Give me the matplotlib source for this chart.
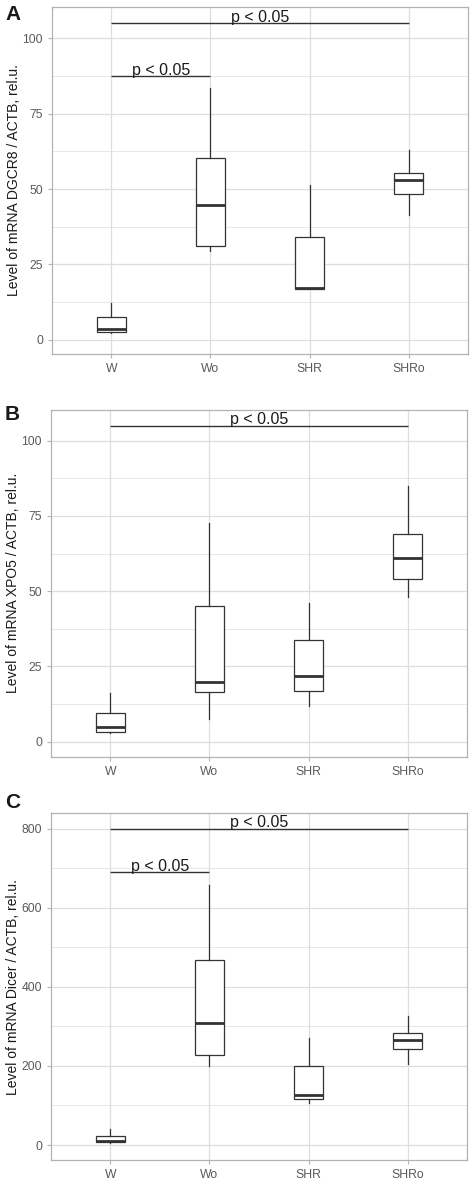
import matplotlib
matplotlib.use("Agg")
import matplotlib.pyplot as plt
from matplotlib.ticker import MultipleLocator

plt.rcParams['font.family'] = ['Liberation Sans', 'DejaVu Sans']

groups = ["W", "Wo", "SHR", "SHRo"]

# box stats: [lower whisker, Q1, median, Q3, upper whisker]
dgcr8 = [[2.3, 2.7, 3.7, 7.5, 12.1],
         [29.5, 31.2, 44.7, 60.3, 83.4],
         [17.0, 17.0, 17.3, 34.2, 51.2],
         [41.4, 48.5, 52.9, 55.5, 63.0]]
xpo5 = [[2.8, 3.3, 4.8, 9.4, 16.1],
        [7.4, 16.4, 19.9, 45.2, 72.5],
        [11.8, 16.8, 21.7, 33.8, 46.2],
        [47.9, 54.0, 61.1, 69.1, 85.0]]
dicer = [[5.9, 6.7, 9.3, 22.8, 39.6],
         [199.8, 226.8, 307.8, 468.0, 658.5],
         [105.4, 115.5, 127.3, 199.8, 271.5],
         [204.0, 242.8, 265.6, 282.5, 326.3]]

# significance brackets: (group_from, group_to, y)
sig_a = [(0, 3, 105.0), (0, 1, 87.5)]
sig_b = [(0, 3, 105.0)]
sig_c = [(0, 3, 800.0), (0, 1, 690.0)]

ylabels = ["Level of mRNA DGCR8 / ACTB, rel.u.",
           "Level of mRNA XPO5 / ACTB, rel.u.",
           "Level of mRNA Dicer / ACTB, rel.u."]
letters = ["A", "B", "C"]
yticks = [[0, 25, 50, 75, 100], [0, 25, 50, 75, 100], [0, 200, 400, 600, 800]]
minor_step = [12.5, 12.5, 100]
ylims = [(-4.7, 110.4), (-5.0, 110.2), (-37.9, 839.0)]

fig = plt.figure(figsize=(4.74, 11.8), dpi=100)
W, H = 474, 1180
boxes_px = [(52, 7, 468, 354), (51, 410, 467, 756.7), (51, 813.3, 467, 1160)]
letter_y = [14, 415, 802]

datasets = [dgcr8, xpo5, dicer]
sigs = [sig_a, sig_b, sig_c]

grid_col = "#DEDEDE"
border_col = "#B3B3B3"
line_col = "#333333"

for i in range(3):
    x0, y0, x1, y1 = boxes_px[i]
    ax = fig.add_axes([x0 / W, 1 - y1 / H, (x1 - x0) / W, (y1 - y0) / H])
    stats = []
    for g, s in zip(groups, datasets[i]):
        stats.append(dict(label=g, whislo=s[0], q1=s[1], med=s[2], q3=s[3], whishi=s[4]))
    pos = list(range(1, len(groups) + 1))
    ax.bxp(stats, positions=pos, widths=0.3, showcaps=False, showfliers=False,
           patch_artist=True,
           boxprops=dict(facecolor="white", edgecolor=line_col, linewidth=0.9),
           whiskerprops=dict(color=line_col, linewidth=0.9),
           medianprops=dict(color=line_col, linewidth=2.0, solid_capstyle="butt"),
           zorder=3)
    ax.set_xlim(0.4, 4.6)
    ax.set_ylim(*ylims[i])
    ax.set_yticks(yticks[i])
    ax.yaxis.set_minor_locator(MultipleLocator(minor_step[i]))
    ax.set_xticks(pos)
    ax.set_xticklabels(groups)
    ax.grid(True, which="major", color=grid_col, linewidth=0.9, zorder=0)
    ax.grid(True, which="minor", axis="y", color=grid_col, linewidth=0.5, zorder=0)
    ax.set_axisbelow(True)
    ax.tick_params(axis="both", which="major", colors=border_col, labelcolor="#5A5A5A",
                   labelsize=8.8, length=3, width=0.8)
    ax.tick_params(axis="y", which="minor", length=0)
    for sp in ax.spines.values():
        sp.set_color(border_col)
        sp.set_linewidth(0.9)
    ax.set_ylabel(ylabels[i], fontsize=10, color="#1A1A1A", labelpad=1)
    for (a, b, y) in sigs[i]:
        ax.plot([pos[a], pos[b]], [y, y], color=line_col, linewidth=1.0, zorder=4,
                solid_capstyle="butt")
        ax.text((pos[a] + pos[b]) / 2, y - 0.005 * (ylims[i][1] - ylims[i][0]), "p < 0.05",
                ha="center", va="bottom", fontsize=11.5, color="#1A1A1A", zorder=5)
    fig.text(5 / W, 1 - letter_y[i] / H, letters[i], fontsize=15, fontweight="bold",
             ha="left", va="center", color="#1A1A1A")

fig.savefig("out.png", dpi=100)
